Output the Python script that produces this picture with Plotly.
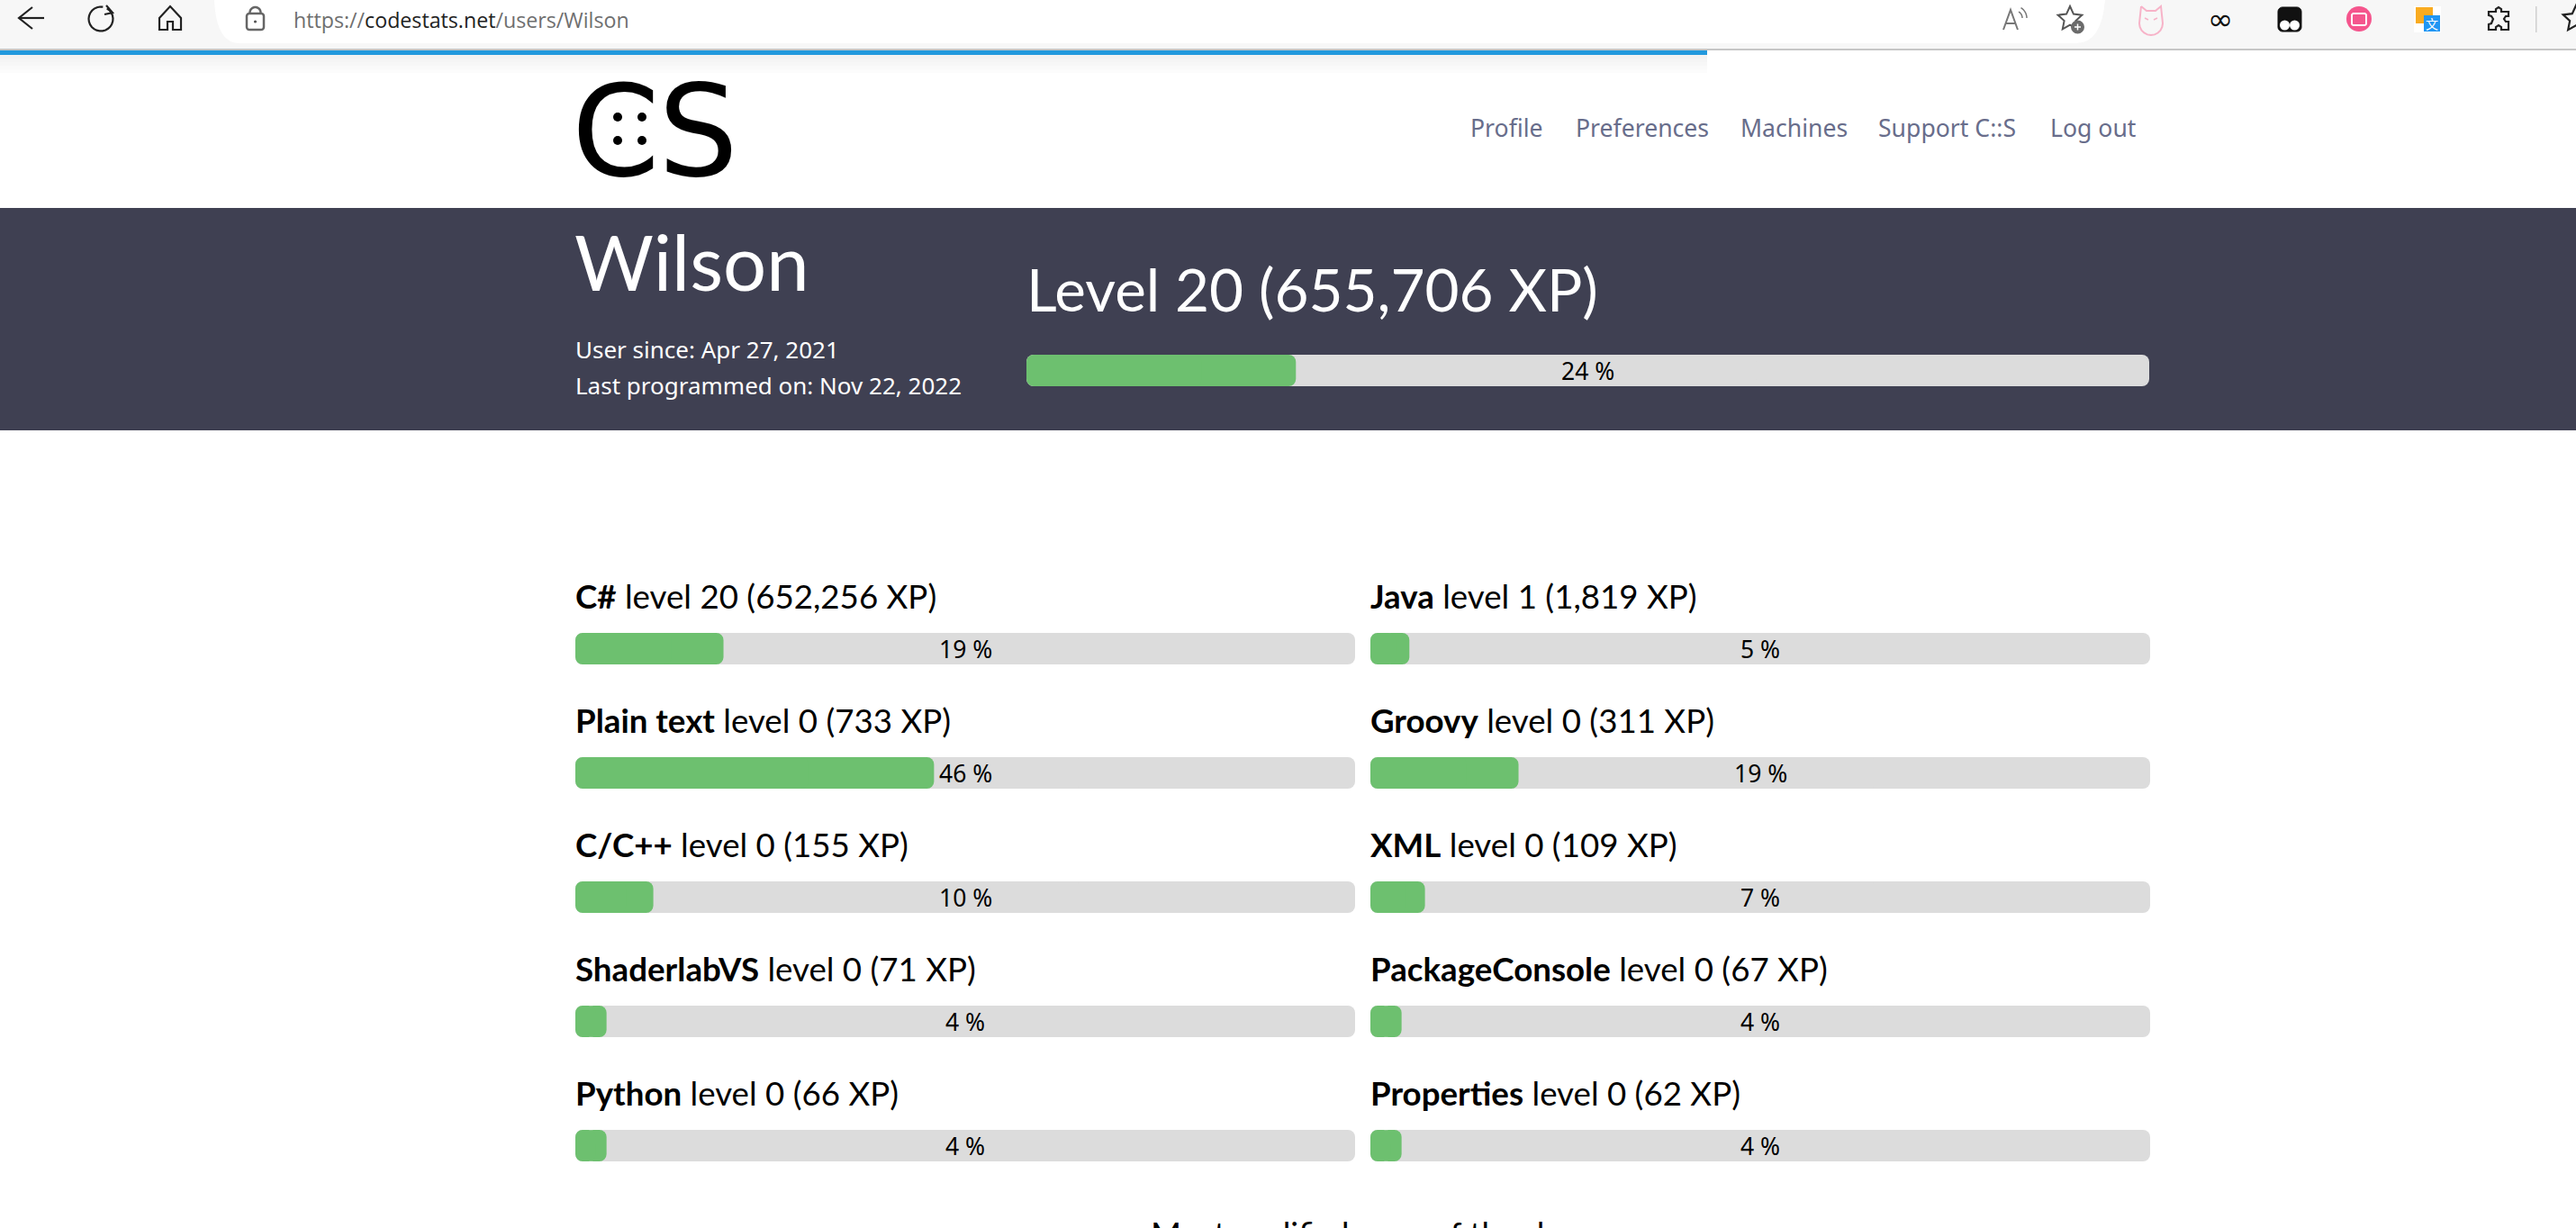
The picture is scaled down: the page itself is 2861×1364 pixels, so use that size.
import math
import plotly.graph_objects as go

W, H = 2861, 1364

# left and right column of languages
left_langs = ["C#", "Plain text", "C/C++", "ShaderlabVS", "Python"]
left_levels = [20, 0, 0, 0, 0]
left_xp = [652256, 733, 155, 71, 66]
left_pct = [19, 46, 10, 4, 4]

right_langs = ["Java", "Groovy", "XML", "PackageConsole", "Properties"]
right_levels = [1, 0, 0, 0, 0]
right_xp = [1819, 311, 109, 67, 62]
right_pct = [5, 19, 7, 4, 4]

total_level = 20
total_xp = 655706
total_pct = 24
user_name = "Wilson"

nav_items = ["Profile", "Preferences", "Machines", "Support C::S", "Log out"]
nav_x = [1632, 1749, 1932, 2085, 2276]

GREEN = "#6dc06f"
TRACK = "#dcdcdc"
DARK = "#3f4052"
NAV = "#686d8b"
BODY_FONT = "Noto Sans"
HEAD_FONT = "Lato"


def px(x):
    return x / W


def py(y):
    return 1 - y / H


shapes = []
annotations = []


def rect(x0, y0, x1, y1, color, layer="below"):
    shapes.append(dict(type="rect", xref="paper", yref="paper", x0=px(x0), x1=px(x1),
                       y0=py(y1), y1=py(y0), fillcolor=color, line_width=0, layer=layer))


def circle(cx, cy, r, color, line=None, width=0):
    shapes.append(dict(type="circle", xref="paper", yref="paper", x0=px(cx - r), x1=px(cx + r),
                       y0=py(cy + r), y1=py(cy - r), fillcolor=color,
                       line=dict(color=line, width=width) if line else dict(width=0)))


def path(points, color="#222222", width=2.5, fill=None, close=False):
    d = "M " + " L ".join(f"{px(x):.5f},{py(y):.5f}" for x, y in points)
    if close:
        d += " Z"
    shapes.append(dict(type="path", xref="paper", yref="paper", path=d,
                       line=dict(color=color, width=width), fillcolor=fill))


def arc(cx, cy, r, a0, a1, n=24):
    return [(cx + r * math.cos(math.radians(a0 + (a1 - a0) * i / n)),
             cy + r * math.sin(math.radians(a0 + (a1 - a0) * i / n))) for i in range(n + 1)]


def star(cx, cy, r):
    pts = []
    for i in range(10):
        rad = r if i % 2 == 0 else r * 0.48
        ang = math.radians(-90 + i * 36)
        pts.append((cx + rad * math.cos(ang), cy + rad * math.sin(ang)))
    return pts


def rounded(x0, y0, x1, y1, r):
    return (arc(x0 + r, y0 + r, r, 180, 270, 6) + arc(x1 - r, y0 + r, r, 270, 360, 6)
            + arc(x1 - r, y1 - r, r, 0, 90, 6) + arc(x0 + r, y1 - r, r, 90, 180, 6))


def text(x, y, s, size, color="#000000", family=BODY_FONT, anchor="left"):
    annotations.append(dict(xref="paper", yref="paper", x=px(x), y=py(y), text=s, showarrow=False,
                            xanchor=anchor, yanchor="middle", align=anchor, borderpad=0,
                            font=dict(size=size, color=color, family=family)))


# browser toolbar
rect(0, 0, W, 54, "#f7f7f7")
rect(0, 54, W, 56, "#c6c6c6")
shapes.append(dict(type="path", xref="paper", yref="paper", layer="below", line_width=0, fillcolor="#ffffff",
                   path=f"M {px(238)},{py(0)} Q {px(240)},{py(48)} {px(266)},{py(48)} "
                        f"L {px(2306)},{py(48)} Q {px(2334)},{py(48)} {px(2338)},{py(0)} Z"))
path([(49, 20), (21, 20)], width=2.2)
path([(36, 8), (21, 20), (36, 32)], width=2.2)
path(arc(112, 21, 13.5, -60, 280), width=2.2)
path([(118, 6), (125, 14), (116, 16)], width=2.2)
path([(177, 20), (189, 7), (201, 20), (201, 33), (192, 33), (192, 24), (186, 24), (186, 33), (177, 33)],
     width=2.2, close=True)
path(rounded(274, 15, 293, 33, 3), color="#666666", close=True)
path(arc(283.5, 14, 6, 180, 360), color="#666666")
circle(283.5, 24, 1.6, "#555555")
text(325, 22, '<span style="color:#6f6f6f">https://</span>codestats.net'
              '<span style="color:#6f6f6f">/users/Wilson</span>', 23.2, "#222222", "Open Sans")

path([(2225, 33), (2233, 11), (2241, 33)], color="#777777", width=2)
path([(2228, 26), (2238, 26)], color="#777777", width=2)
path(arc(2238, 20, 8, -60, 0, 8), color="#777777", width=1.5)
path(arc(2238, 20, 13, -60, 0, 8), color="#777777", width=1.5)
path(star(2299, 21, 14), color="#555555", width=2, close=True)
circle(2307.5, 30, 7.5, "#6b6b6b")
path([(2304, 30), (2311, 30)], color="#ffffff", width=1.5)
path([(2307.5, 26.5), (2307.5, 33.5)], color="#ffffff", width=1.5)

# extension icons
path([(2378, 7), (2384, 12), (2394, 12), (2400, 7), (2402, 26)] + arc(2389, 26, 13, 0, 180, 10) + [(2378, 7)],
     color="#f7b3c8", width=2)
path([(2382, 20), (2386, 22)], color="#f7b3c8", width=1.5)
path([(2396, 20), (2392, 22)], color="#f7b3c8", width=1.5)
text(2466, 21, "∞", 34, "#111111", "DejaVu Sans", "center")
path(rounded(2530, 8, 2556, 35, 5), color="#111111", width=1, fill="#111111", close=True)
circle(2537.5, 28, 5.5, "#ffffff")
circle(2548.5, 28, 5.5, "#ffffff")
circle(2620, 21, 14, "#f5558d")
path(rounded(2612, 15, 2628, 28, 2), color="#ffffff", width=2, close=True)
rect(2681, 7, 2711, 36, "#ffffff", layer="above")
rect(2683, 8, 2702, 26, "#f9ab20", layer="above")
rect(2692, 17, 2710, 35, "#2196f3", layer="above")
text(2701, 26, "文", 14, "#ffffff", "Noto Sans CJK SC", "center")
path([(2767, 13), (2772, 13), (2772, 10), (2775, 8), (2778, 10), (2778, 13), (2786, 13), (2786, 18),
      (2783, 18), (2781, 21), (2783, 24), (2786, 24), (2786, 33), (2778, 33), (2778, 30), (2775, 28),
      (2772, 30), (2772, 33), (2764, 33), (2764, 27), (2767, 26), (2769, 21), (2767, 18), (2764, 17),
      (2764, 13)], width=2.2, close=True)
rect(2816, 7, 2817.5, 36, "#d0d0d0")
path(star(2861, 21, 15), color="#222222", width=2.2, close=True)

# page loading bar with its soft shadow
for i, alpha in enumerate([0.05, 0.04, 0.03, 0.02, 0.01]):
    rect(0, 61 + i * 4, 1896, 65 + i * 4, f"rgba(0,0,0,{alpha})")
rect(0, 56, 1896, 61, "#2299dd")

# logo
text(634, 146, "C", 140, "#000000", "DejaVu Sans")
text(730, 146, "S", 140, "#000000", "DejaVu Sans")
for cx in [686, 713]:
    for cy in [130, 156]:
        circle(cx, cy, 5, "#000000")

# nav
for name, x in zip(nav_items, nav_x):
    text(x, 142, name, 26.6, NAV)

# profile band
rect(0, 231, W, 478, DARK)
text(637, 290, user_name, 85, "#ffffff", HEAD_FONT)
text(637.5, 388, "User since: Apr 27, 2021", 26, "#ffffff")
text(637.5, 428, "Last programmed on: Nov 22, 2022", 26, "#ffffff")
text(1138.5, 320, f"Level {total_level} ({total_xp:,} XP)", 65.6, "#ffffff", HEAD_FONT)


def column_traces(langs, pct, xaxis, yaxis):
    # plotly only rounds the tip of a bar, so each bar is two pieces pointing away from each other.
    # they overlap by more than the corner radius so the inner corners stay hidden
    common = dict(y=langs, orientation="h", xaxis=xaxis, yaxis=yaxis, showlegend=False, marker_line_width=0)
    traces = []
    for values, color in [([100] * len(langs), TRACK), (pct, GREEN)]:
        traces.append(go.Bar(x=[v * 0.65 for v in values], base=[v * 0.35 for v in values],
                             marker_color=color, **common))
        traces.append(go.Bar(x=[-v * 0.65 for v in values], base=[v * 0.65 for v in values],
                             marker_color=color, **common))
    return traces


def pct_labels(langs, pct, xaxis, yaxis):
    # bar text gets squeezed to the bar height, annotations keep their size
    for lang, p in zip(langs, pct):
        annotations.append(dict(xref=xaxis, yref=yaxis, x=50, y=lang, text=f"{p} %", showarrow=False,
                                font=dict(size=26.5, color="#000000", family=BODY_FONT)))


fig = go.Figure()
for tr in column_traces(left_langs, left_pct, "x", "y"):
    fig.add_trace(tr)
for tr in column_traces(right_langs, right_pct, "x2", "y2"):
    fig.add_trace(tr)
for tr in column_traces(["Level"], [total_pct], "x3", "y3"):
    fig.add_trace(tr)

pct_labels(left_langs, left_pct, "x", "y")
pct_labels(right_langs, right_pct, "x2", "y2")
pct_labels(["Level"], [total_pct], "x3", "y3")


def row_text(langs, levels, xp, x):
    for i, lang in enumerate(langs):
        text(x, 662 + i * 138, f"<b>{lang}</b> level {levels[i]} ({xp[i]:,} XP)", 36.7, "#000000", HEAD_FONT)


row_text(left_langs, left_levels, left_xp, 637.5)
row_text(right_langs, right_levels, right_xp, 1521)
text(1515, 1370, "Most prolific hours of the day", 36.7, "#000000", HEAD_FONT, "center")

rows_domain = [py(1341.5), py(651.5)]
level_domain = [py(480.5), py(342.5)]
hidden = dict(visible=False, fixedrange=True)

fig.update_layout(
    width=W,
    height=H,
    margin=dict(t=0, b=0, l=0, r=0),
    paper_bgcolor="#ffffff",
    plot_bgcolor="rgba(0,0,0,0)",
    barmode="overlay",
    bargap=1 - 35 / 138,
    barcornerradius=8,
    shapes=shapes,
    annotations=annotations,
    xaxis=dict(domain=[px(639), px(1505)], range=[0, 100], anchor="y", **hidden),
    xaxis2=dict(domain=[px(1522), px(2388)], range=[0, 100], anchor="y2", **hidden),
    xaxis3=dict(domain=[px(1140), px(2387)], range=[0, 100], anchor="y3", **hidden),
    yaxis=dict(domain=rows_domain, type="category", categoryarray=left_langs, autorange="reversed", anchor="x", **hidden),
    yaxis2=dict(domain=rows_domain, type="category", categoryarray=right_langs, autorange="reversed", anchor="x2", **hidden),
    yaxis3=dict(domain=level_domain, type="category", anchor="x3", **hidden),
)

fig.write_html("out.html", config={"displayModeBar": False},
               post_script="document.body.style.margin='0';document.body.style.overflow='hidden';")
